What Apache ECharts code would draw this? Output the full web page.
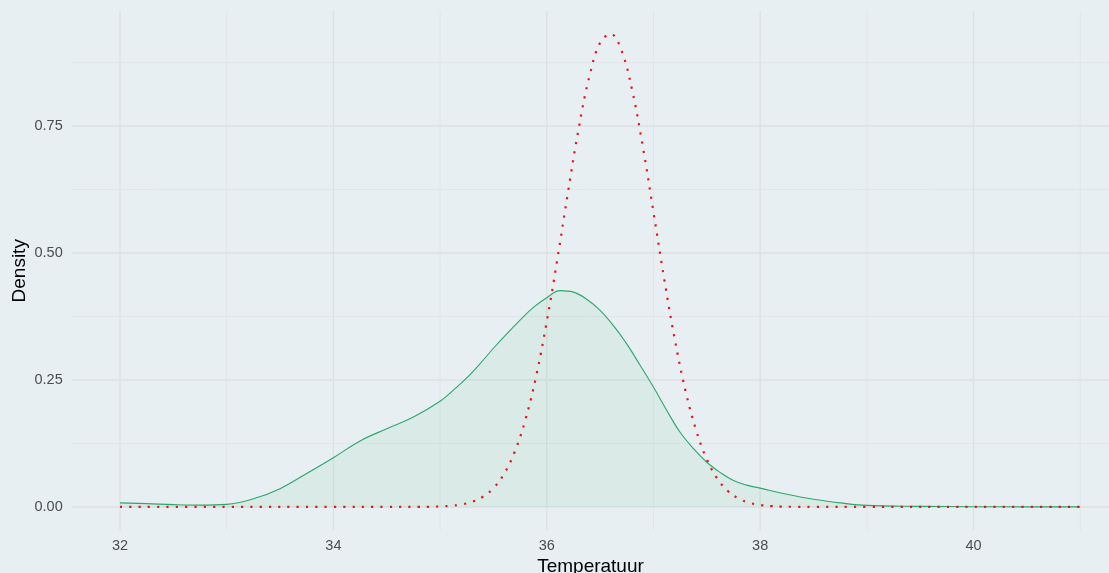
<!DOCTYPE html>
<html>
<head>
<meta charset="utf-8">
<script src="https://cdn.jsdelivr.net/npm/echarts@6/dist/echarts.min.js"></script>
<style>
html,body{margin:0;padding:0;background:#e8eff2;}
#chart{width:1109px;height:573px;}
</style>
</head>
<body>
<div id="chart"></div>
<script>
// Tick / grid values
var xMajor = [32, 34, 36, 38, 40];
var xMinor = [33, 35, 37, 39, 41];
var yMajor = [0, 0.25, 0.5, 0.75];
var yMinor = [0.125, 0.375, 0.625, 0.875];

// Green kernel density
var greenX = [32, 32.25, 32.5, 32.75, 33, 33.25, 33.5, 33.75, 34, 34.25, 34.5, 34.75, 35, 35.125, 35.25, 35.375, 35.5, 35.625, 35.75, 35.875, 36, 36.125, 36.25, 36.375, 36.5, 36.625, 36.75, 36.875, 37, 37.125, 37.25, 37.375, 37.5, 37.625, 37.75, 37.875, 38, 38.25, 38.5, 38.75, 39, 39.5, 40, 40.5, 41];
var greenY = [0.008, 0.0065, 0.0045, 0.0035, 0.005, 0.016, 0.036, 0.066, 0.097, 0.13, 0.154, 0.177, 0.208, 0.23, 0.254, 0.282, 0.3125, 0.341, 0.368, 0.393, 0.412, 0.426, 0.423, 0.409, 0.387, 0.357, 0.321, 0.279, 0.236, 0.19, 0.147, 0.115, 0.088, 0.068, 0.052, 0.043, 0.037, 0.025, 0.015, 0.008, 0.003, 0.0012, 0.0005, 0.0002, 0.0001];

// Red dotted normal-like curve
var redX = [32, 33, 34, 34.5, 34.8, 34.9, 35.0, 35.1, 35.2, 35.3, 35.4, 35.5, 35.6, 35.7, 35.8, 35.9, 36.0, 36.1, 36.2, 36.3, 36.4, 36.5, 36.6, 36.7, 36.8, 36.9, 37.0, 37.1, 37.2, 37.3, 37.4, 37.5, 37.6, 37.7, 37.8, 37.9, 38.0, 38.1, 38.2, 38.3, 38.5, 39, 40, 41];
var redY = [0, 0, 0, 0.00002, 0.00015, 0.0004, 0.001, 0.0022, 0.0048, 0.0101, 0.0198, 0.0369, 0.0651, 0.1088, 0.172, 0.257, 0.365, 0.489, 0.621, 0.746, 0.848, 0.914, 0.931, 0.899, 0.821, 0.710, 0.581, 0.450, 0.330, 0.229, 0.151, 0.0938, 0.0552, 0.0308, 0.0163, 0.0081, 0.0038, 0.0017, 0.0007, 0.0003, 0.00003, 0, 0, 0];

var X_MIN = 31.55, X_MAX = 41.27, Y_MIN = -0.0466, Y_MAX = 0.9766;

function pairs(xs, ys){ return xs.map(function(x,i){ return [x, ys[i]]; }); }

var majorStyle = {color:'#dce1e4', width:1.4};
var minorStyle = {color:'#e0e6e9', width:1};

function vLine(v, style){
  return {type:'line', silent:true, symbol:'none', z:0, lineStyle:style, data:[[v, Y_MIN],[v, Y_MAX]], clip:false, tooltip:{show:false}};
}
function hLine(v, style){
  return {type:'line', silent:true, symbol:'none', z:0, lineStyle:style, data:[[X_MIN, v],[X_MAX, v]], clip:false, tooltip:{show:false}};
}

var series = []
  .concat(xMinor.map(function(v){ return vLine(v, minorStyle); }))
  .concat(yMinor.map(function(v){ return hLine(v, minorStyle); }))
  .concat(xMajor.map(function(v){ return vLine(v, majorStyle); }))
  .concat(yMajor.map(function(v){ return hLine(v, majorStyle); }));

series.push({
  type:'line', data:pairs(greenX, greenY), smooth:0.4, symbol:'none', z:2,
  lineStyle:{color:'#2ca86a', width:1.1},
  areaStyle:{color:'rgba(40,168,90,0.1)'}
});
series.push({
  type:'line', data:pairs(redX, redY), smooth:0.4, symbol:'none', z:3,
  lineStyle:{color:'#e8141c', width:2.2, type:[2.2, 7.1], cap:'butt'}
});

var FONT = 'Liberation Sans, Arial, sans-serif';
var chart = echarts.init(document.getElementById('chart'));
chart.setOption({
  animation:false,
  backgroundColor:'#e8eff2',
  textStyle:{fontFamily:FONT},
  grid:{left:72, right:0, top:11, bottom:42.4, containLabel:false, outerBoundsMode:'none'},
  xAxis:{
    type:'value', min:X_MIN, max:X_MAX,
    name:'Temperatuur', nameLocation:'middle', nameGap:26.5, nameMoveOverlap:false,
    nameTextStyle:{color:'#000', fontSize:19, fontFamily:FONT},
    axisLine:{show:false}, axisTick:{show:false}, splitLine:{show:false},
    axisLabel:{customValues:xMajor, color:'#4d4d4d', fontSize:14.5, margin:8, fontFamily:FONT,
      formatter:function(v){ return String(v); }}
  },
  yAxis:{
    type:'value', min:Y_MIN, max:Y_MAX,
    name:'Density', nameLocation:'middle', nameGap:42.5, nameMoveOverlap:false,
    nameTextStyle:{color:'#000', fontSize:19, fontFamily:FONT},
    axisLine:{show:false}, axisTick:{show:false}, splitLine:{show:false},
    axisLabel:{customValues:yMajor, color:'#4d4d4d', fontSize:14.5, margin:9.3, fontFamily:FONT,
      formatter:function(v){ return v.toFixed(2); }}
  },
  series:series
});
</script>
</body>
</html>
